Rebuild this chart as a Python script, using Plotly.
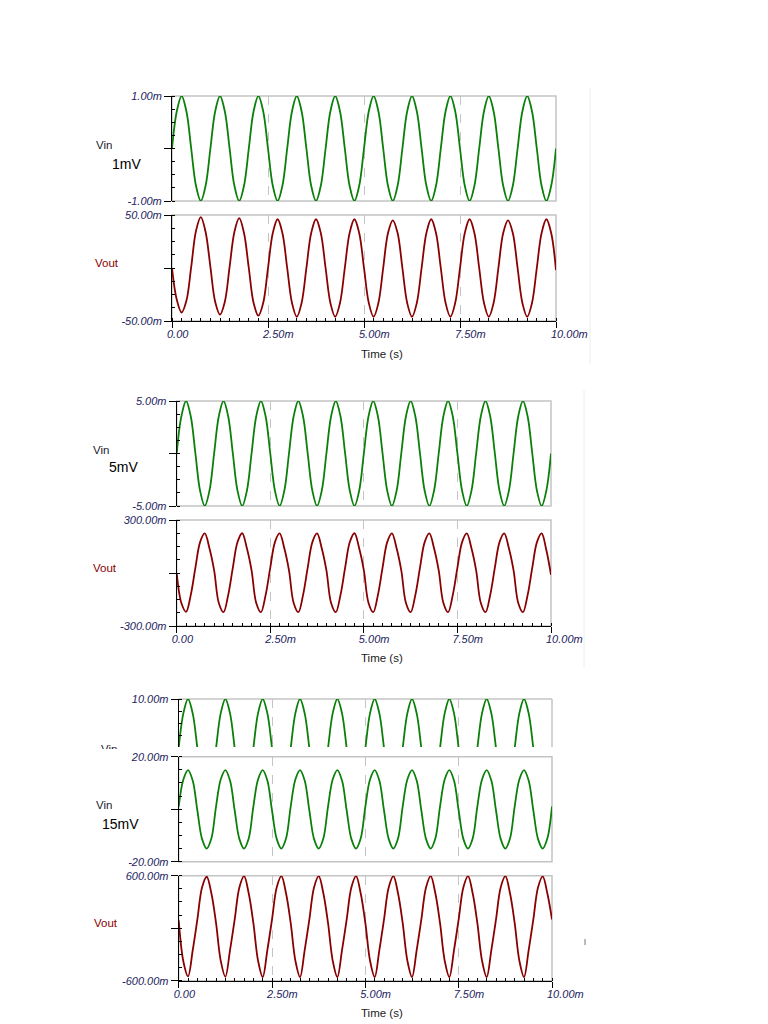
import plotly.graph_objects as go

# time samples (ms)
t_ms = [0.0, 0.125, 0.25, 0.375, 0.5, 0.625, 0.75, 0.875,
        1.0, 1.125, 1.25, 1.375, 1.5, 1.625, 1.75, 1.875,
        2.0, 2.125, 2.25, 2.375, 2.5, 2.625, 2.75, 2.875,
        3.0, 3.125, 3.25, 3.375, 3.5, 3.625, 3.75, 3.875,
        4.0, 4.125, 4.25, 4.375, 4.5, 4.625, 4.75, 4.875,
        5.0, 5.125, 5.25, 5.375, 5.5, 5.625, 5.75, 5.875,
        6.0, 6.125, 6.25, 6.375, 6.5, 6.625, 6.75, 6.875,
        7.0, 7.125, 7.25, 7.375, 7.5, 7.625, 7.75, 7.875,
        8.0, 8.125, 8.25, 8.375, 8.5, 8.625, 8.75, 8.875,
        9.0, 9.125, 9.25, 9.375, 9.5, 9.625, 9.75, 9.875,
        10.0]

# 1 mV input (mV)
vin_1 = [0.0, 0.71, 1.0, 0.71, 0.0, -0.71, -1.0, -0.71,
         0.0, 0.71, 1.0, 0.71, 0.0, -0.71, -1.0, -0.71,
         0.0, 0.71, 1.0, 0.71, 0.0, -0.71, -1.0, -0.71,
         0.0, 0.71, 1.0, 0.71, 0.0, -0.71, -1.0, -0.71,
         0.0, 0.71, 1.0, 0.71, 0.0, -0.71, -1.0, -0.71,
         0.0, 0.71, 1.0, 0.71, 0.0, -0.71, -1.0, -0.71,
         0.0, 0.71, 1.0, 0.71, 0.0, -0.71, -1.0, -0.71,
         0.0, 0.71, 1.0, 0.71, 0.0, -0.71, -1.0, -0.71,
         0.0, 0.71, 1.0, 0.71, 0.0, -0.71, -1.0, -0.71,
         0.0, 0.71, 1.0, 0.71, 0.0, -0.71, -1.0, -0.71,
         0.0]
vout_1 = [0, -30, -42, -31, 1, 35, 48, 34,
          1, -32, -44, -32, 1, 34, 47, 33,
          0, -33, -45, -33, 0, 33, 46, 33,
          0, -33, -46, -33, 0, 33, 46, 33,
          0, -33, -46, -33, 0, 33, 46, 33,
          0, -33, -46, -33, 0, 33, 45, 33,
          0, -33, -46, -33, 0, 33, 46, 33,
          0, -33, -46, -33, 0, 33, 46, 33,
          0, -33, -46, -33, 0, 33, 45, 33,
          0, -33, -46, -33, 0, 33, 46, 33,
          -2]

# 5 mV input (mV)
vin_5 = [0.0, 3.55, 5.0, 3.55, 0.0, -3.55, -5.0, -3.55,
         0.0, 3.55, 5.0, 3.55, 0.0, -3.55, -5.0, -3.55,
         0.0, 3.55, 5.0, 3.55, 0.0, -3.55, -5.0, -3.55,
         0.0, 3.55, 5.0, 3.55, 0.0, -3.55, -5.0, -3.55,
         0.0, 3.55, 5.0, 3.55, 0.0, -3.55, -5.0, -3.55,
         0.0, 3.55, 5.0, 3.55, 0.0, -3.55, -5.0, -3.55,
         0.0, 3.55, 5.0, 3.55, 0.0, -3.55, -5.0, -3.55,
         0.0, 3.55, 5.0, 3.55, 0.0, -3.55, -5.0, -3.55,
         0.0, 3.55, 5.0, 3.55, 0.0, -3.55, -5.0, -3.55,
         0.0, 3.55, 5.0, 3.55, 0.0, -3.55, -5.0, -3.55,
         0.0]
vout_5 = [0, -170, -220, -125, 30, 175, 224, 140,
          15, -170, -222, -125, 30, 175, 225, 140,
          15, -170, -222, -125, 30, 175, 224, 140,
          15, -170, -222, -125, 30, 175, 224, 140,
          15, -170, -222, -125, 30, 175, 225, 140,
          15, -170, -222, -125, 30, 175, 224, 140,
          15, -170, -222, -125, 30, 175, 224, 140,
          15, -170, -222, -125, 30, 175, 224, 140,
          15, -170, -222, -125, 30, 175, 224, 140,
          15, -170, -222, -125, 30, 175, 224, 130,
          -10]

# 15 mV case: clipped strip at the top (10m scale), input and output (mV)
vin_strip = [0.0, 7.07, 10.0, 7.07, 0.0, -7.07, -10.0, -7.07,
             0.0, 7.07, 10.0, 7.07, 0.0, -7.07, -10.0, -7.07,
             0.0, 7.07, 10.0, 7.07, 0.0, -7.07, -10.0, -7.07,
             0.0, 7.07, 10.0, 7.07, 0.0, -7.07, -10.0, -7.07,
             0.0, 7.07, 10.0, 7.07, 0.0, -7.07, -10.0, -7.07,
             0.0, 7.07, 10.0, 7.07, 0.0, -7.07, -10.0, -7.07,
             0.0, 7.07, 10.0, 7.07, 0.0, -7.07, -10.0, -7.07,
             0.0, 7.07, 10.0, 7.07, 0.0, -7.07, -10.0, -7.07,
             0.0, 7.07, 10.0, 7.07, 0.0, -7.07, -10.0, -7.07,
             0.0, 7.07, 10.0, 7.07, 0.0, -7.07, -10.0, -7.07,
             0.0]
vin_15 = [1.0, 11.3, 14.9, 10.9, -0.5, -11.3, -15.0, -11.2,
          1.0, 11.3, 14.9, 10.9, -0.5, -11.3, -15.0, -11.2,
          1.0, 11.3, 14.9, 10.9, -0.5, -11.3, -15.0, -11.2,
          1.0, 11.3, 14.9, 10.9, -0.5, -11.3, -15.0, -11.2,
          1.0, 11.3, 14.9, 10.9, -0.5, -11.3, -15.0, -11.2,
          1.0, 11.3, 14.9, 10.9, -0.5, -11.3, -15.0, -11.2,
          1.0, 11.3, 14.9, 10.9, -0.5, -11.3, -15.0, -11.2,
          1.0, 11.3, 14.9, 10.9, -0.5, -11.3, -15.0, -11.2,
          1.0, 11.3, 14.9, 10.9, -0.5, -11.3, -15.0, -11.2,
          1.0, 11.3, 14.9, 10.9, -0.5, -11.3, -15.0, -11.2,
          1.0]
vout_15 = [90, -380, -550, -255, 100, 465, 588, 400,
           60, -370, -555, -250, 100, 465, 594, 400,
           60, -370, -558, -250, 100, 465, 594, 400,
           60, -370, -558, -250, 100, 465, 594, 400,
           60, -370, -558, -250, 100, 465, 594, 400,
           60, -370, -558, -250, 100, 465, 594, 400,
           60, -370, -558, -250, 100, 465, 594, 400,
           60, -370, -558, -250, 100, 465, 594, 400,
           60, -370, -558, -250, 100, 465, 594, 400,
           60, -370, -558, -250, 100, 465, 592, 400,
           100]

time_ticks = [0, 2.5, 5, 7.5, 10]
time_labels = ['0.00', '2.50m', '5.00m', '7.50m', '10.00m']
mid_ticks = [1.25, 3.75, 6.25, 8.75]

GREEN = '#0a800a'
RED = '#880000'
NAVY = '#23235e'
GRID = '#c4c4c4'
FONT = 'Liberation Sans'

# the page adds an 8 px body margin, so the figure is a bit smaller
OFF = 8
W, H = 760, 1016


def px(x):
    return (x - OFF) / W


def py(y):
    return 1 - (y - OFF) / H


tickfont = dict(family=FONT, size=11, color=NAVY, style='italic')

fig = go.Figure()
layout = dict(width=W, height=H, margin=dict(l=0, r=0, t=0, b=0, autoexpand=False),
              paper_bgcolor='white', plot_bgcolor='white', showlegend=False)
shapes = []

# (axis id, y, color, x-range pixels, y pixels top/bottom, lim, labels, minor, bottom axis?)
panels = [
    (1, vin_1, GREEN, (172, 556), (96, 201), 1, ['1.00m', '-1.00m'], 0.25, False),
    (2, vout_1, RED, (172, 556), (215, 321), 50, ['50.00m', '-50.00m'], 12.5, True),
    (3, vin_5, GREEN, (176.7, 551), (401, 506), 5, ['5.00m', '-5.00m'], 1.25, False),
    (4, vout_5, RED, (176.7, 551), (520, 626), 300, ['300.00m', '-300.00m'], 75, True),
    (5, vin_strip, GREEN, (178.7, 552), (699, 747), 10, ['10.00m', None], 2.5, False),
    (6, vin_15, GREEN, (178.7, 552), (756.7, 861.7), 20, ['20.00m', '-20.00m'], 5, False),
    (7, vout_15, RED, (178.7, 552), (875.7, 980.7), 600, ['600.00m', '-600.00m'], 150, True),
]

extra = 8
for i, y, col, (xl, xr), (yt, yb), lim, labs, mstep, bottom in panels:
    xn = 'x' if i == 1 else f'x{i}'
    yn = 'y' if i == 1 else f'y{i}'
    xk = 'xaxis' if i == 1 else f'xaxis{i}'
    yk = 'yaxis' if i == 1 else f'yaxis{i}'
    fig.add_trace(go.Scatter(x=t_ms, y=y, mode='lines', xaxis=xn, yaxis=yn,
                             line=dict(color=col, width=1.8, shape='spline', smoothing=1),
                             hoverinfo='skip'))
    xa = dict(domain=[px(xl), px(xr)], anchor=yn, range=[0, 10], automargin=False,
              tickmode='array', tickvals=time_ticks, showgrid=True,
              gridcolor=GRID, griddash='dash', gridwidth=1, zeroline=False)
    if bottom:
        xa.update(ticktext=time_labels, ticks='outside', ticklen=6, tickcolor='black',
                  showline=True, linecolor='black', linewidth=1, tickfont=tickfont,
                  ticklabelposition='outside right', ticklabelshift=-6,
                  ticklabelstandoff=3,
                  minor=dict(ticks='inside', dtick=0.25, tick0=0, ticklen=3,
                             tickcolor='black', showgrid=False))
        # half-way ticks pointing down
        layout[f'xaxis{extra}'] = dict(overlaying=xn, anchor=yn, range=[0, 10],
                                       automargin=False,
                                       tickmode='array', tickvals=mid_ticks,
                                       ticks='outside', ticklen=4, tickcolor='black',
                                       showticklabels=False, showgrid=False,
                                       zeroline=False, showline=False)
        extra += 1
    else:
        xa.update(showticklabels=False, ticks='', showline=False)
    layout[xk] = xa

    if labs[1] is None:
        rng = [0.2, lim]
        tv, tt = [lim], [labs[0]]
    else:
        rng = [-lim, lim]
        tv, tt = [-lim, 0, lim], [labs[1], '', labs[0]]
    layout[yk] = dict(domain=[py(yb), py(yt)], anchor=xn, range=rng, automargin=False,
                      tickmode='array', tickvals=tv, ticktext=tt,
                      ticks='outside', ticklen=7, tickcolor='black',
                      showline=True, linecolor='black', linewidth=1,
                      showgrid=False, zeroline=False, tickfont=tickfont,
                      minor=dict(ticks='inside', dtick=mstep, tick0=0, ticklen=3,
                                 tickcolor='black', showgrid=False))

    # light grey frame (top / right, and bottom for the input plots)
    if labs[1] is None:
        shapes.append(dict(type='line', xref=f'{xn} domain', yref=f'{yn} domain',
                           x0=0, x1=1, y0=1, y1=1, line=dict(color=GRID, width=1.5),
                           layer='below'))
        shapes.append(dict(type='line', xref=f'{xn} domain', yref=f'{yn} domain',
                           x0=1, x1=1, y0=0, y1=1, line=dict(color=GRID, width=1.5),
                           layer='below'))
    else:
        shapes.append(dict(type='rect', xref=f'{xn} domain', yref=f'{yn} domain',
                           x0=0, x1=1, y0=0, y1=1, line=dict(color=GRID, width=1.5),
                           layer='below'))

# faint screenshot edges on the right
shapes.append(dict(type='line', xref='paper', yref='paper', x0=px(590), x1=px(590),
                   y0=py(88), y1=py(364), line=dict(color='#eeeeee', width=1)))
shapes.append(dict(type='line', xref='paper', yref='paper', x0=px(584), x1=px(584),
                   y0=py(390), y1=py(668), line=dict(color='#eeeeee', width=1)))
shapes.append(dict(type='line', xref='paper', yref='paper', x0=px(585), x1=px(585),
                   y0=py(939), y1=py(945), line=dict(color='#777777', width=1)))

layout['shapes'] = shapes


def label(text, x, y, size, color, **kw):
    d = dict(text=text, x=px(x), y=py(y), xref='paper', yref='paper', showarrow=False,
             xanchor='center', yanchor='middle',
             font=dict(family=FONT, size=size, color=color))
    d.update(kw)
    return d


LBL = '#1c1c30'
annotations = [
    label('Vin', 103.5, 145, 11.5, LBL),
    label('1mV', 126, 164, 14, 'black'),
    label('Vout', 107, 263, 11.5, RED),
    label('Time (s)', 382, 354, 11.5, '#1a1a1a'),
    label('Vin', 101, 450, 11.5, LBL),
    label('5mV', 123, 467, 14, 'black'),
    label('Vout', 105, 568, 11.5, RED),
    label('Time (s)', 382, 658, 11.5, '#1a1a1a'),
    label('Vin', 108.5, 741, 11.5, LBL, yanchor='top', height=6, valign='top'),
    label('Vin', 103.5, 805, 11.5, LBL),
    label('15mV', 121, 824, 14, 'black'),
    label('Vout', 106.5, 923, 11.5, RED),
    label('Time (s)', 382, 1013, 11.5, '#1a1a1a'),
]
layout['annotations'] = annotations

fig.update_layout(**layout)
fig.write_html("out.html")
